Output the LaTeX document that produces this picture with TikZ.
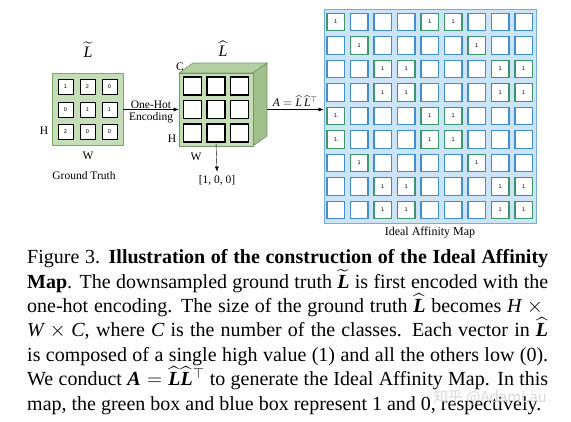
\documentclass[tikz,border=0pt]{standalone}
\usepackage{amsmath}
\usepackage{fontspec}
\setmainfont{Liberation Serif}
\newfontfamily\boxfont{Liberation Sans}
\newfontfamily\cjkfont{Noto Sans CJK SC}
\usepackage{xcolor}
\usetikzlibrary{arrows.meta,positioning}

% italic and bold italic letters in the text font
\newcommand{\mi}[1]{\text{\itshape #1}}
\newcommand{\mbi}[1]{\text{\bfseries\itshape #1}}

\definecolor{gtfill}{RGB}{198,222,184}
\definecolor{gtline}{RGB}{128,166,108}
\definecolor{cubetop}{RGB}{180,207,162}
\definecolor{cubeside}{RGB}{160,192,140}
\definecolor{cubeline}{RGB}{118,148,106}
\definecolor{mapfill}{RGB}{204,228,248}
\definecolor{mapline}{RGB}{120,172,222}
\definecolor{zeroline}{RGB}{66,142,212}
\definecolor{oneline}{RGB}{62,150,110}

\tikzset{
  gtbox/.style={draw=gtline, fill=gtfill, line width=0.8pt, minimum width=71pt, minimum height=72pt, inner sep=0pt},
  gtcell/.style={draw=black, fill=white, line width=1pt, minimum size=15pt, inner sep=0pt, font=\boxfont\fontsize{5.5}{6}\selectfont},
  cubeface/.style={draw=cubeline, fill=gtfill, line width=0.6pt, minimum width=74pt, minimum height=73pt, inner sep=0pt},
  fcell/.style={draw=black, fill=white, line width=1.2pt, minimum size=18pt, inner sep=0pt},
  mapbg/.style={draw=mapline, fill=mapfill, line width=1pt, minimum width=212pt, minimum height=214pt, inner sep=0pt},
  zerobox/.style={draw=zeroline, fill=white, line width=1.1pt, minimum size=17.5pt, inner sep=0pt},
  onebox/.style={zerobox, draw=oneline, font=\boxfont\fontsize{5.5}{6}\selectfont},
}

\begin{document}
\begin{tikzpicture}[x=1pt,y=-1pt,>={Latex[length=5pt,width=4pt]},font=\fontsize{11.5}{13}\selectfont]
\useasboundingbox (0,0) rectangle (571,421);

% ground truth
\node[gtbox] (gt) at (87.5,109.5) {};
\foreach \v [count=\k from 0] in {1,2,0,0,1,1,2,0,0} {
  \pgfmathtruncatemacro\r{div(\k,3)}
  \pgfmathtruncatemacro\c{mod(\k,3)}
  \node[gtcell] (g-\r-\c) at ({65.5+22*\c},{87+22.5*\r}) {\v};
}
\node (gtname) at (88,50) {\fontsize{16}{18}\selectfont$\widetilde{\mi{L}}$};
\node (gtH) at (44,131) {H};
\node (gtW) at (88,156) {W};
\node (gtcap) at (84,176) {Ground Truth};

% one-hot cube
\filldraw[draw=cubeline, fill=cubetop, line width=0.6pt] (179,73) -- (193,63) -- (267,63) -- (253,73) -- cycle;
\filldraw[draw=cubeline, fill=cubeside, line width=0.6pt] (253,73) -- (267,63) -- (267,136) -- (253,146) -- cycle;
\node[cubeface] (front) at (216,109.5) {};
\foreach \r in {0,1,2}
  \foreach \c in {0,1,2}
    \node[fcell] (f-\r-\c) at ({192.5+23.5*\c},{86+23.5*\r}) {};
\node (cubename) at (223,49) {\fontsize{16}{18}\selectfont$\widehat{\mi{L}}$};
\node (cubeC) at (180,67) {C};
\node (cubeH) at (172,139) {H};
\node (cubeW) at (196,157) {W};
\node (vec) at (217,180) {[1, 0, 0]};

\draw[->] (gt.east) -- node[above=-2.5pt] (ohtop) {One-Hot} node[below=-1pt] (ohbot) {Encoding} (front.west);
\draw[->] (f-2-1.south) -- (vec.north);

% ideal affinity map
\node[mapbg] (map) at (430,116) {};
\foreach \a [count=\i] in {1,2,0,0,1,1,2,0,0}
  \foreach \b [count=\j] in {1,2,0,0,1,1,2,0,0} {
    \ifnum\a=\b
      \node[onebox] (m-\i-\j) at ({324+23.5*(\j-0.5)},{10.25+23.5*(\i-0.5)}) {1};
    \else
      \node[zerobox] (m-\i-\j) at ({324+23.5*(\j-0.5)},{10.25+23.5*(\i-0.5)}) {};
    \fi
  }
\node (mapcap) at (430,233) {\fontsize{12}{14}\selectfont Ideal Affinity Map};

\coordinate (cubeout) at (267,109.5);
\draw[->] (cubeout) -- node[above=-1pt] (affeq) {$\mi{A}=\widehat{\mi{L}}\,\widehat{\mi{L}}{}^{\top}$} (cubeout -| map.west);

% caption
\node[anchor=north west, inner sep=0pt, align=left, font=\fontsize{20}{24.4}\selectfont] (caption) at (27,249.5) {%
\makebox[521pt][s]{Figure 3. \textbf{Illustration of the construction of the Ideal Affinity}}\\
\makebox[521pt][s]{\textbf{Map}. The downsampled ground truth $\widetilde{\mbi{L}}$ is first encoded with the}\\
\makebox[521pt][s]{one-hot encoding. The size of the ground truth $\widehat{\mbi{L}}$ becomes $\mi{H}\times{}$}\\
\makebox[521pt][s]{$\mi{W}\times\mi{C}$, where $\mi{C}$ is the number of the classes. Each vector in $\widehat{\mbi{L}}$}\\
\makebox[521pt][s]{is composed of a single high value (1) and all the others low (0).}\\
\makebox[521pt][s]{We conduct $\mbi{A}=\widehat{\mbi{L}}\widehat{\mbi{L}}{}^{\top}$ to generate the Ideal Affinity Map. In this}\\
map, the green box and blue box represent 1 and 0, respectively.};

\node[text=gray!30, font=\cjkfont\fontsize{15}{15}\selectfont] (mark) at (490,397) {知乎 @AdamLau};
\end{tikzpicture}
\end{document}
